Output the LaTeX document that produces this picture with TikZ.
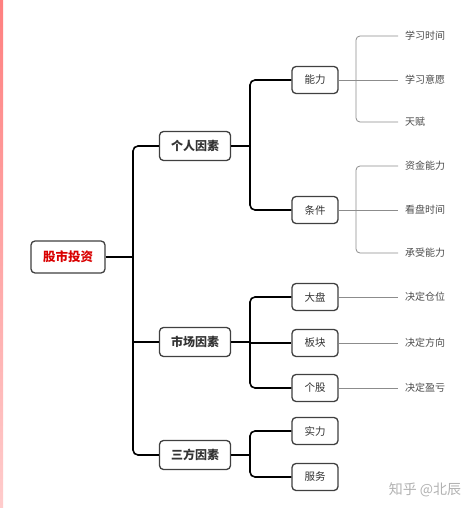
\documentclass[tikz,border=0pt]{standalone}
\usepackage{fontspec}
\setmainfont{Noto Sans CJK SC}
\begin{document}
\begin{tikzpicture}[x=1pt,y=-1pt,
  box/.style={draw=black!75,line width=1.3pt,rounded corners=4pt,fill=white,inner sep=0pt,align=center},
  rootbox/.style={box,minimum width=74pt,minimum height=32pt,font=\fontsize{12.5}{14}\selectfont\bfseries,text=red!85!black},
  lvone/.style={box,minimum width=71pt,minimum height=29pt,font=\fontsize{12}{14}\selectfont\bfseries,text=black!80},
  lvtwo/.style={box,minimum width=46pt,minimum height=27pt,font=\fontsize{10.5}{12}\selectfont,text=black!80},
  leaf/.style={anchor=west,inner sep=0pt,font=\fontsize{10}{12}\selectfont,text=black!70},
  thick link/.style={draw=black,line width=1.6pt,rounded corners=5pt},
  thin link/.style={draw=black!45,line width=0.8pt,rounded corners=4pt}]
\useasboundingbox (0,0) rectangle (474,508);
\fill[white] (0,0) rectangle (474,508);
\shade[top color=red!50!white,bottom color=red!20!white] (0,0) rectangle (3,508);

% nodes
\node[rootbox] (root) at (68,257) {股市投资};
\node[lvone] (p1) at (195,146) {个人因素};
\node[lvone] (p2) at (195,342) {市场因素};
\node[lvone] (p3) at (195,455) {三方因素};

\node[lvtwo] (nl) at (315,80) {能力};
\node[lvtwo] (tj) at (315,210) {条件};
\node[lvtwo] (dp) at (315,297) {大盘};
\node[lvtwo] (bk) at (315,343) {板块};
\node[lvtwo] (gg) at (315,388) {个股};
\node[lvtwo] (sl) at (315,431) {实力};
\node[lvtwo] (fw) at (315,477) {服务};

\node[leaf] (a1) at (405,36) {学习时间};
\node[leaf] (a2) at (405,80) {学习意愿};
\node[leaf] (a3) at (405,122) {天赋};
\node[leaf] (b1) at (405,166) {资金能力};
\node[leaf] (b2) at (405,210) {看盘时间};
\node[leaf] (b3) at (405,253) {承受能力};
\node[leaf] (c1) at (405,297) {决定仓位};
\node[leaf] (c2) at (405,343) {决定方向};
\node[leaf] (c3) at (405,388) {决定盈亏};

\node[anchor=center,inner sep=0pt,font=\fontsize{14}{16}\selectfont,text=black!30] (wm) at (425,490) {知乎 @北辰};

% spine coordinates
\coordinate (s0) at (133,257);
\coordinate (s1) at (250,146);
\coordinate (s2) at (250,342);
\coordinate (s3) at (250,455);
\coordinate (t1) at (356,80);
\coordinate (t2) at (356,210);

% level one
\draw[thick link] (root.east) -- (s0);
\draw[thick link] (p1.west) -| (s0) |- (p3.west);
\draw[thick link] (s0 |- p2.west) -- (p2.west);

% level two
\draw[thick link] (p1.east) -- (s1);
\draw[thick link] (nl.west) -| (s1) |- (tj.west);
\draw[thick link] (p2.east) -- (s2);
\draw[thick link] (dp.west) -| (s2) |- (gg.west);
\draw[thick link] (s2 |- bk.west) -- (bk.west);
\draw[thick link] (p3.east) -- (s3);
\draw[thick link] (sl.west) -| (s3) |- (fw.west);

% leaves
\draw[thin link] (nl.east) -- (t1);
\draw[thin link] ([xshift=-7pt]a1.west) -| (t1) |- ([xshift=-7pt]a3.west);
\draw[thin link] (t1) -- ([xshift=-7pt]a2.west);
\draw[thin link] (tj.east) -- (t2);
\draw[thin link] ([xshift=-7pt]b1.west) -| (t2) |- ([xshift=-7pt]b3.west);
\draw[thin link] (t2) -- ([xshift=-7pt]b2.west);
\draw[thin link] (dp.east) -- ([xshift=-7pt]c1.west);
\draw[thin link] (bk.east) -- ([xshift=-7pt]c2.west);
\draw[thin link] (gg.east) -- ([xshift=-7pt]c3.west);
\end{tikzpicture}
\end{document}
